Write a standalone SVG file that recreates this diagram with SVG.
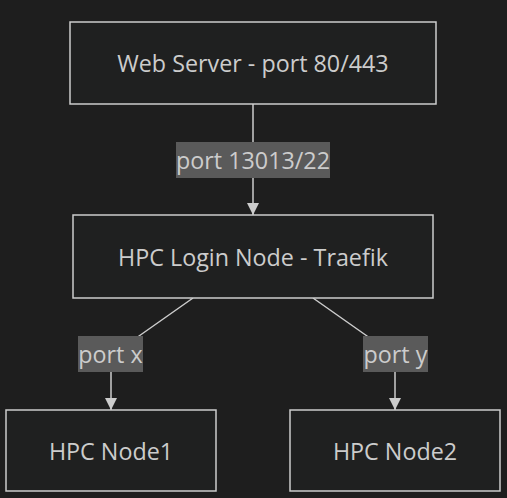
<svg xmlns="http://www.w3.org/2000/svg" width="507" height="498" viewBox="0 0 507 498">
<style>
.bg{fill:#1e1e1e}
.node rect{fill:#1f2020;stroke:#cccccc;stroke-width:1.5}
.node text,.lbl text{font-family:"Open Sans","Noto Sans",sans-serif;font-size:23.3px;fill:#cccccc;text-anchor:middle;dominant-baseline:central}
.edge{fill:none;stroke:#cccccc;stroke-width:1.5}
.lbl rect{fill:#5a5a5a}
</style>
<defs>
<marker id="arrow" markerWidth="12" markerHeight="12" refX="12" refY="6" orient="auto" markerUnits="userSpaceOnUse" viewBox="0 0 12 12">
<path d="M0,0 L12,6 L0,12 z" fill="#cccccc"/>
</marker>
</defs>
<rect class="bg" x="0" y="0" width="507" height="498"/>
<g id="connectors">
<path class="edge" d="M253,104 L253,215" marker-end="url(#arrow)"/>
<path class="edge" d="M193,298 L139,336 C120,350 111,360 111,372 L111,410" marker-end="url(#arrow)"/>
<path class="edge" d="M313,298 L367,336 C386,350 395,360 395,372 L395,410" marker-end="url(#arrow)"/>
<g class="lbl"><rect x="176" y="142" width="154" height="36"/><text x="253" y="160">port 13013/22</text></g>
<g class="lbl"><rect x="78" y="336" width="65" height="36"/><text x="110.5" y="354">port x</text></g>
<g class="lbl"><rect x="363" y="336" width="65" height="36"/><text x="395.5" y="354">port y</text></g>
</g>
<g id="web" class="node"><rect x="70" y="22" width="366" height="82"/><text x="253" y="63">Web Server - port 80/443</text></g>
<g id="login" class="node"><rect x="73" y="215" width="360" height="83"/><text x="253" y="256.5">HPC Login Node - Traefik</text></g>
<g id="node1" class="node"><rect x="6" y="410" width="210" height="81"/><text x="111" y="450.5">HPC Node1</text></g>
<g id="node2" class="node"><rect x="290" y="410" width="210" height="81"/><text x="395" y="450.5">HPC Node2</text></g>
</svg>
